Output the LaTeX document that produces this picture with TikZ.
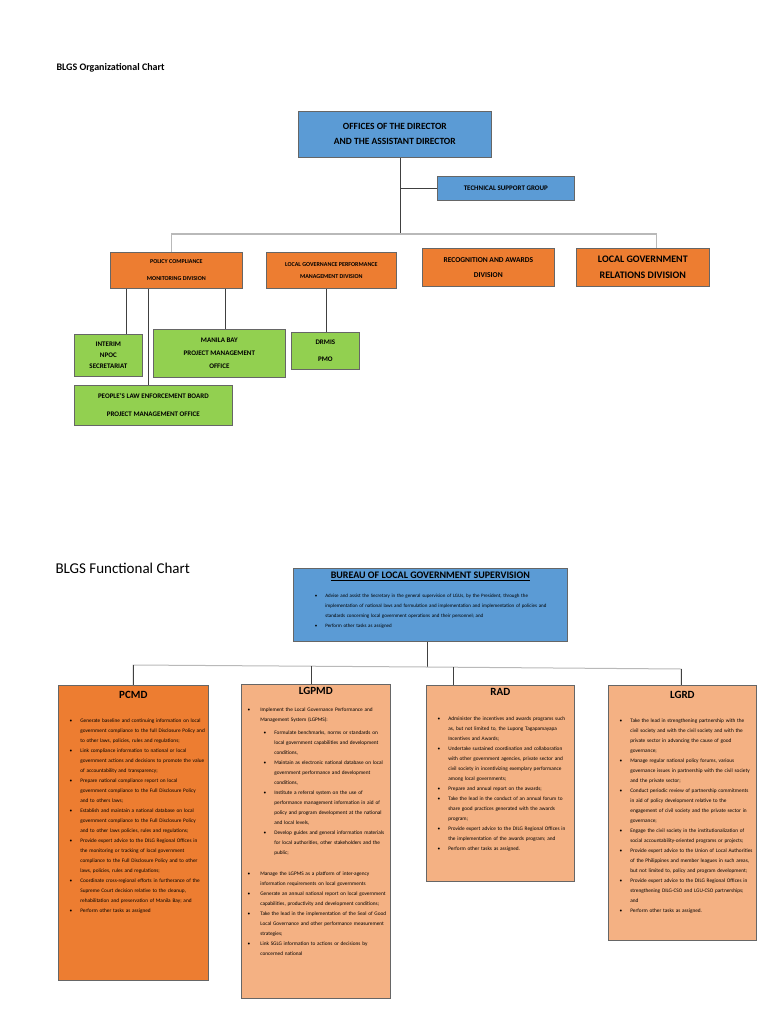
\documentclass[tikz,border=0pt]{standalone}
\usepackage{fontspec}
\setmainfont{Carlito}
\usepackage{enumitem}
\definecolor{cblue}{HTML}{5B9BD5}
\definecolor{corange}{HTML}{ED7D31}
\definecolor{clight}{HTML}{F4B183}
\definecolor{cgreen}{HTML}{92D050}
\definecolor{cline}{HTML}{404040}
\setlist[itemize]{label=\textbullet,leftmargin=15pt,labelsep=8pt,itemsep=0pt,topsep=0pt,parsep=0pt,partopsep=0pt}
\newcommand{\sfs}{\fontsize{5.3}{10}\selectfont}
\begin{document}
\begin{tikzpicture}[x=1pt,y=-1pt,
  box/.style={draw=cline!80,line width=0.7pt,anchor=north west,inner sep=0pt},
  ln/.style={draw=cline,line width=0.8pt},
  gln/.style={draw=gray!55,line width=1pt},
  lbl/.style={font=\bfseries\fontsize{7}{11}\selectfont,align=center},
  body/.style={anchor=north,align=left,inner sep=0pt,font=\sfs}]
\fill[white] (0,0) rectangle (768,1024);
\useasboundingbox (0,0) rectangle (768,1024);
% ---------- Organizational chart ----------
\node[anchor=west,font=\bfseries\fontsize{10}{12}\selectfont] (t1) at (53,68) {BLGS Organizational Chart};
\node[box,fill=cblue,minimum width=193pt,minimum height=46pt,font=\bfseries\fontsize{9.5}{15}\selectfont,align=center] (dir) at (298,111) {OFFICES OF THE DIRECTOR\\AND THE ASSISTANT DIRECTOR};
\node[box,fill=cblue,minimum width=137pt,minimum height=24pt,lbl] (tsg) at (437,176) {TECHNICAL SUPPORT GROUP};
\node[box,fill=corange,minimum width=132pt,minimum height=36pt,font=\bfseries\fontsize{6}{17}\selectfont,align=center] (pcmd) at (110,252) {POLICY COMPLIANCE\\MONITORING DIVISION};
\node[box,fill=corange,minimum width=130pt,minimum height=36pt,font=\bfseries\fontsize{6}{12}\selectfont,align=center] (lgpmd) at (266,252) {LOCAL GOVERNANCE PERFORMANCE\\MANAGEMENT DIVISION};
\node[box,fill=corange,minimum width=132pt,minimum height=38pt,font=\bfseries\fontsize{7.5}{15}\selectfont,align=center] (rad) at (422,248) {RECOGNITION AND AWARDS\\DIVISION};
\node[box,fill=corange,minimum width=133pt,minimum height=38pt,font=\bfseries\fontsize{10}{16}\selectfont,align=center] (lgrd) at (576,248) {LOCAL GOVERNMENT\\RELATIONS DIVISION};
\node[box,fill=cgreen,minimum width=68pt,minimum height=42pt,font=\bfseries\fontsize{7}{11}\selectfont,align=center] (npoc) at (74,334) {INTERIM\\NPOC\\SECRETARIAT};
\node[box,fill=cgreen,minimum width=132pt,minimum height=48pt,font=\bfseries\fontsize{7}{13}\selectfont,align=center] (mb) at (153,329) {MANILA BAY\\PROJECT MANAGEMENT\\OFFICE};
\node[box,fill=cgreen,minimum width=158pt,minimum height=40pt,font=\bfseries\fontsize{7}{18}\selectfont,align=center] (pleb) at (74,385) {PEOPLE'S LAW ENFORCEMENT BOARD\\PROJECT MANAGEMENT OFFICE};
\node[box,fill=cgreen,minimum width=68pt,minimum height=37pt,font=\bfseries\fontsize{7}{17}\selectfont,align=center] (drmis) at (291,332) {DRMIS\\PMO};
\coordinate (j1) at (400,234);
\draw[ln] (dir.south -| j1) -- (j1);
\draw[ln] (tsg.west) -- (tsg.west -| j1);
\draw[gln] (pcmd.north -| 171,0) -- (171,234) -- (656,234) -- (lgrd.north -| 656,0);
\draw[ln] (pcmd.south -| 126,0) -- (npoc.north -| 126,0);
\draw[ln] (pcmd.south -| 148,0) -- (pleb.north -| 148,0);
\draw[ln] (pcmd.south -| 225,0) -- (mb.north -| 225,0);
\draw[ln] (lgpmd.south -| 326,0) -- (drmis.north -| 326,0);
% ---------- Functional chart ----------
\node[anchor=west,font=\fontsize{15}{18}\selectfont] (t2) at (52,568) {BLGS Functional Chart};
\node[box,fill=cblue,minimum width=274pt,minimum height=73pt] (blgs) at (293,568) {};
\node[anchor=north,inner sep=0pt,font=\bfseries\fontsize{10}{12}\selectfont] (blgst) at ([yshift=-4pt]blgs.north) {\underline{BUREAU OF LOCAL GOVERNMENT SUPERVISION}};
\node[body,text width=258pt,font=\fontsize{5}{10}\selectfont] (blgsb) at ([yshift=-19pt]blgs.north) {\begin{itemize}[leftmargin=24pt]
\item Advise and assist the Secretary in the general supervision of LGUs, by the President, through the implementation of national laws and formulation and implementation and implementation of policies and standards concerning local government operations and their personnel; and
\item Perform other tasks as assigned
\end{itemize}};
\node[box,fill=corange,minimum width=150pt,minimum height=295pt] (f1) at (58,685) {};
\node[box,fill=clight,minimum width=149pt,minimum height=314pt] (f2) at (241,684) {};
\node[box,fill=clight,minimum width=148pt,minimum height=196pt] (f3) at (426,685) {};
\node[box,fill=clight,minimum width=148pt,minimum height=255pt] (f4) at (608,685) {};
\coordinate (j2) at (427,667);
\draw[ln] (blgs.south -| j2) -- (j2);
\draw[gln] (f1.north -| 133,0) -- (133,665) -- (427,667) -- (681,669) -- (f4.north -| 681,0);
\draw[ln] (133,665) -- (f1.north -| 133,0);
\draw[ln] (681,669) -- (f4.north -| 681,0);
\draw[ln] (311,666) -- (f2.north -| 311,0);
\draw[ln] (453,667) -- (f3.north -| 453,0);
\node[anchor=north,font=\bfseries\fontsize{11}{13}\selectfont] (h1) at ([yshift=-3pt]f1.north) {PCMD};
\node[anchor=north,font=\bfseries\fontsize{11}{13}\selectfont] (h2) at ([yshift=0pt]f2.north) {LGPMD};
\node[anchor=north,font=\bfseries\fontsize{11}{13}\selectfont] (h3) at ([yshift=0pt]f3.north) {RAD};
\node[anchor=north,font=\bfseries\fontsize{11}{13}\selectfont] (h4) at ([yshift=-3pt]f4.north) {LGRD};
\node[body,text width=140pt] (b1) at ([xshift=2pt,yshift=-27pt]f1.north) {\begin{itemize}
\item Generate baseline and continuing information on local government compliance to the full Disclosure Policy and to other laws, policies, rules and regulations;
\item Link compliance information to national or local government actions and decisions to promote the value of accountability and transparency;
\item Prepare national compliance report on local government compliance to the Full Disclosure Policy and to others laws;
\item Establish and maintain a national database on local government compliance to the Full Disclosure Policy and to other laws policies, rules and regulations;
\item Provide expert advice to the DILG Regional Offices in the monitoring or tracking of local government compliance to the Full Disclosure Policy and to other laws, policies, rules and regulations;
\item Coordinate cross-regional efforts in furtherance of the Supreme Court decision relative to the cleanup, rehabilitation and preservation of Manila Bay; and
\item Perform other tasks as assigned
\end{itemize}};
\node[body,text width=143pt] (b2) at ([xshift=1pt,yshift=-17pt]f2.north) {\begin{itemize}[leftmargin=15pt,labelsep=10pt]
\item Implement the Local Governance Performance and Management System (LGPMS):
\begin{itemize}[leftmargin=14pt,labelsep=8pt,topsep=3pt]
\item Formulate benchmarks, norms or standards on local government capabilities and development conditions,
\item Maintain as electronic national database on local government performance and development conditions,
\item Institute a referral system on the use of performance management information in aid of policy and program development at the national and local levels,
\item Develop guides and general information materials for local authorities, other stakeholders and the public;
\end{itemize}
\vspace{8pt}
\item Manage the LGPMS as a platform of inter-agency information requirements on local governments
\item Generate an annual national report on local government capabilities, productivity and development conditions;
\item Take the lead in the implementation of the Seal of Good Local Governance and other performance measurement strategies;
\item Link SGLG information to actions or decisions by concerned national
\end{itemize}};
\node[body,text width=138pt] (b3) at ([xshift=2pt,yshift=-25pt]f3.north) {\begin{itemize}
\item Administer the incentives and awards programs such as, but not limited to, the Lupong Tagapamayapa Incentives and Awards;
\item Undertake sustained coordination and collaboration with other government agencies, private sector and civil society in incentivizing exemplary performance among local governments;
\item Prepare and annual report on the awards;
\item Take the lead in the conduct of an annual forum to share good practices generated with the awards program;
\item Provide expert advice to the DILG Regional Offices in the implementation of the awards program; and
\item Perform other tasks as assigned.
\end{itemize}};
\node[body,text width=138pt] (b4) at ([xshift=2pt,yshift=-27pt]f4.north) {\begin{itemize}
\item Take the lead in strengthening partnership with the civil society and with the civil society and with the private sector in advancing the cause of good governance;
\item Manage regular national policy forums, various governance issues in partnership with the civil society and the private sector;
\item Conduct periodic review of partnership commitments in aid of policy development relative to the engagement of civil society and the private sector in governance;
\item Engage the civil society in the institutionalization of social accountability-oriented programs or projects;
\item Provide expert advice to the Union of Local Authorities of the Philippines and member leagues in such areas, but not limited to, policy and program development;
\item Provide expert advice to the DILG Regional Offices in strengthening DILG-CSO and LGU-CSO partnerships; and
\item Perform other tasks as assigned.
\end{itemize}};
\end{tikzpicture}
\end{document}
